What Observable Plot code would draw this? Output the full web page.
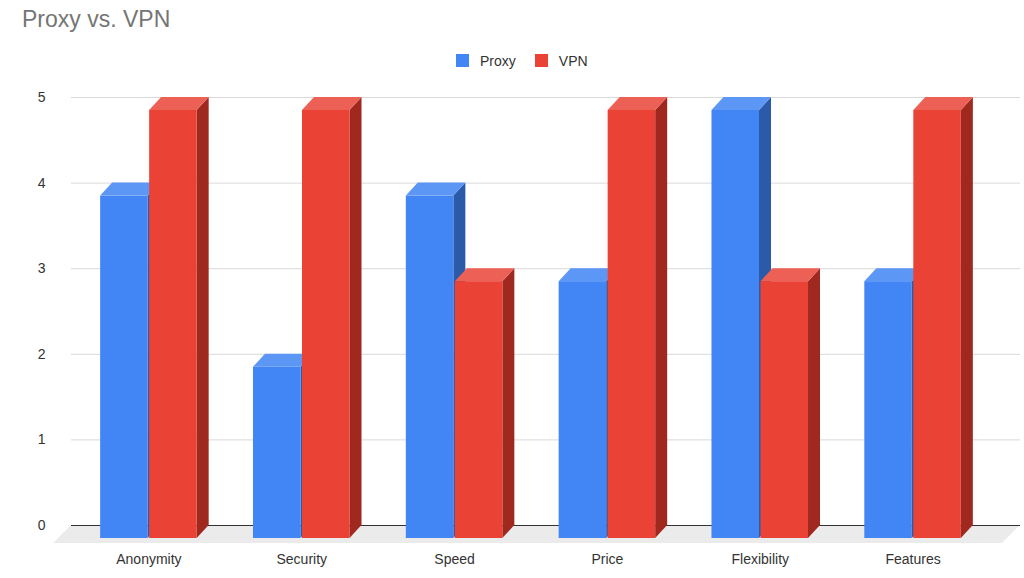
<!DOCTYPE html>
<html>
<head>
<meta charset="utf-8">
<script src="https://cdn.jsdelivr.net/npm/d3@7"></script>
<script src="https://cdn.jsdelivr.net/npm/@observablehq/plot@0.6"></script>
<style>
  body { margin: 0; background: #fff; font-family: "Liberation Sans", Arial, sans-serif; }
  #wrap { position: relative; width: 1024px; height: 578px; overflow: hidden; }
  #title { position: absolute; left: 22px; top: 6px; font-size: 23px; color: #757575; }
  #legend { position: absolute; left: 456px; top: 44px; }
  #legend [class$="-swatch"] { margin-right: 19px !important; }
  #legend [class$="-swatch"] > svg { margin-right: 11px !important; }
  #chart { position: absolute; left: 0; top: 75px; }
</style>
</head>
<body>
<div id="wrap">
  <div id="title">Proxy vs. VPN</div>
  <div id="legend"></div>
  <div id="chart"></div>
</div>
<script>
// Ratings (0–5) per category
const categories = ["Anonymity", "Security", "Speed", "Price", "Flexibility", "Features"];
const series = ["Proxy", "VPN"];
const proxyValues = [4, 2, 4, 3, 5, 3];
const vpnValues = [5, 5, 3, 5, 3, 5];
const yTicks = [0, 1, 2, 3, 4, 5];

// Face colours for the extruded bars
const faceColors = {
  Proxy: { front: "#4285f4", top: "#5d97f6", side: "#2b5aa8" },
  VPN:   { front: "#ea4335", top: "#ec6056", side: "#a0291f" }
};
const seriesOffset = { Proxy: -24.5, VPN: 24.5 };
const DEPTH_X = 12, DEPTH_Y = 13;

const rowsFor = (name, values) => categories.map((c, i) => ({ category: c, series: name, value: values[i] }));
const tables = { Proxy: rowsFor("Proxy", proxyValues), VPN: rowsFor("VPN", vpnValues) };

// Each series is drawn as side, top and front faces (in that order)
const barMarks = series.flatMap(s => ["side", "top", "front"].map(face =>
  Plot.barY(tables[s], {
    x: "category",
    y: "value",
    fill: faceColors[s][face],
    dx: seriesOffset[s],
    dy: DEPTH_Y
  })
));

const plot = Plot.plot({
  width: 1024,
  height: 503,
  marginLeft: 72,
  marginRight: 35,
  marginTop: 22,
  marginBottom: 53,
  style: { fontSize: "14px", fontFamily: "'Liberation Sans', Arial, sans-serif", color: "#333", background: "transparent" },
  x: { domain: categories, paddingInner: 0.689, paddingOuter: 0.3445, round: false, tickSize: 0, tickPadding: 29, label: null },
  y: { domain: [0, 5], ticks: yTicks, tickFormat: d3.format("d"), tickSize: 0, tickPadding: 27, label: null },
  marks: [
    Plot.ruleY(yTicks.filter(t => t > 0), { stroke: "#d9d9d9", strokeWidth: 1, insetLeft: -1, insetRight: -31 }),
    Plot.ruleY([0], { stroke: "#333", strokeWidth: 1.2, insetLeft: -1, insetRight: -31 }),
    ...barMarks
  ]
});

// Turn the side/top bar rectangles into slanted parallelograms
const svg = d3.select(plot.tagName === "svg" ? plot : plot.querySelector("svg"));
const barGroups = svg.selectAll('g[aria-label="bar"]').nodes();
barGroups.forEach((g, i) => {
  const face = ["side", "top", "front"][i % 3];
  if (face === "front") return;
  d3.select(g).selectAll("rect").each(function () {
    const r = d3.select(this);
    const x = +r.attr("x"), y = +r.attr("y"), w = +r.attr("width"), h = +r.attr("height");
    const pts = face === "top"
      ? [[x, y], [x + DEPTH_X, y - DEPTH_Y], [x + w + DEPTH_X, y - DEPTH_Y], [x + w, y]]
      : [[x + w, y], [x + w + DEPTH_X, y - DEPTH_Y], [x + w + DEPTH_X, y + h - DEPTH_Y], [x + w, y + h]];
    d3.select(g).insert("polygon", () => this).attr("points", pts.map(p => p.join(",")).join(" "));
    r.remove();
  });
});

// Floor plane under the baseline, drawn beneath the grid rules
const yScale = plot.scale("y"), xScale = plot.scale("x");
const y0 = yScale.apply(0);
const xl = xScale.range[0] - 1, xr = xScale.range[1] + 31, depth = 18;
const firstRule = svg.select('g[aria-label="rule"]').node();
svg.insert("polygon", () => firstRule)
  .attr("points", [[xl, y0], [xr, y0], [xr - depth, y0 + depth], [xl - depth, y0 + depth]].map(p => p.join(",")).join(" "))
  .attr("fill", "#ebebeb");

document.getElementById("chart").appendChild(plot);

// Legend
const legend = Plot.legend({
  color: { domain: series, range: series.map(s => faceColors[s].front) },
  legend: "swatches",
  swatchSize: 13,
  style: { fontSize: "14px", fontFamily: "'Liberation Sans', Arial, sans-serif", color: "#333" }
});
document.getElementById("legend").appendChild(legend);
</script>
</body>
</html>
